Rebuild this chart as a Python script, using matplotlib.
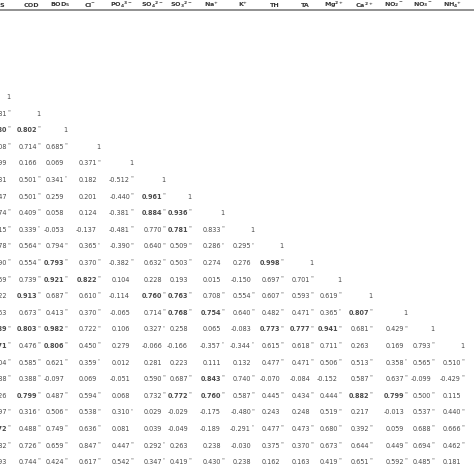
import matplotlib
matplotlib.use("Agg")
import matplotlib.pyplot as plt

plt.rcParams['mathtext.default'] = 'regular'

headers = ["S", "COD", r"BOD$_5$", r"Cl$^{-}$", r"PO$_4$$^{3-}$", r"SO$_4$$^{2-}$", r"SO$_3$$^{2-}$",
           r"Na$^{+}$", r"K$^{+}$", "TH", "TA", r"Mg$^{2+}$", r"Ca$^{2+}$", r"NO$_2$$^{-}$",
           r"NO$_3$$^{-}$", r"NH$_4$$^{+}$"]

rows = [
    ["1"],
    ["0.781**", "1"],
    ["0.880**", "0.802**", "1"],
    ["0.608**", "0.714**", "0.685**", "1"],
    ["0.199", "0.166", "0.069", "0.371**", "1"],
    ["0.131", "0.501**", "0.341*", "0.182", "-0.512**", "1"],
    ["0.247", "0.501**", "0.259", "0.201", "-0.440**", "0.961**", "1"],
    ["0.674**", "0.409**", "0.058", "0.124", "-0.381**", "0.884**", "0.936**", "1"],
    ["0.615**", "0.339*", "-0.053", "-0.137", "-0.481**", "0.770**", "0.781**", "0.833**", "1"],
    ["0.678**", "0.564**", "0.794**", "0.365*", "-0.390**", "0.640**", "0.509**", "0.286*", "0.295*", "1"],
    ["0.690**", "0.554**", "0.793**", "0.370**", "-0.382**", "0.632**", "0.503**", "0.274", "0.276", "0.998**", "1"],
    ["0.659**", "0.739**", "0.921**", "0.822**", "0.104", "0.228", "0.193", "0.015", "-0.150", "0.697**", "0.701**", "1"],
    ["0.222", "0.913**", "0.687**", "0.610**", "-0.114", "0.760**", "0.763**", "0.708**", "0.554**", "0.607**", "0.593**", "0.619**", "1"],
    ["0.063", "0.673**", "0.413**", "0.370**", "-0.065", "0.714**", "0.768**", "0.754**", "0.640**", "0.482**", "0.471**", "0.365*", "0.807**", "1"],
    ["0.889**", "0.803**", "0.982**", "0.722**", "0.106", "0.327*", "0.258", "0.065", "-0.083", "0.773**", "0.777**", "0.941**", "0.681**", "0.429**", "1"],
    ["0.871**", "0.476**", "0.806**", "0.450**", "0.279", "-0.066", "-0.166", "-0.357*", "-0.344*", "0.615**", "0.618**", "0.711**", "0.263", "0.169", "0.793**", "1"],
    ["0.604**", "0.585**", "0.621**", "0.359*", "0.012", "0.281", "0.223", "0.111", "0.132", "0.477**", "0.471**", "0.506**", "0.513**", "0.358*", "0.565**", "0.510**"],
    ["0.388**", "0.388**", "-0.097", "0.069", "-0.051", "0.590**", "0.687**", "0.843**", "0.740**", "-0.070", "-0.084", "-0.152", "0.587**", "0.637**", "-0.099", "-0.429**"],
    ["0.026", "0.799**", "0.487**", "0.594**", "0.068", "0.732**", "0.772**", "0.760**", "0.587**", "0.445**", "0.434**", "0.444**", "0.882**", "0.799**", "0.500**", "0.115"],
    ["0.697**", "0.316*", "0.506**", "0.538**", "0.310*", "0.029", "-0.029", "-0.175", "-0.480**", "0.243", "0.248", "0.519**", "0.217", "-0.013", "0.537**", "0.440**"],
    ["0.772**", "0.488**", "0.749**", "0.636**", "0.081", "0.039", "-0.049", "-0.189", "-0.291*", "0.477**", "0.473**", "0.680**", "0.392**", "0.059", "0.688**", "0.666**"],
    ["0.682**", "0.726**", "0.659**", "0.847**", "0.447**", "0.292*", "0.263", "0.238", "-0.030", "0.375**", "0.370**", "0.673**", "0.644**", "0.449**", "0.694**", "0.462**"],
    ["0.093", "0.744**", "0.424**", "0.617**", "0.542**", "0.347*", "0.419**", "0.430**", "0.238", "0.162", "0.163", "0.419**", "0.651**", "0.592**", "0.485**", "0.181"],
]

bold = {(2, 0), (2, 1), (6, 5), (7, 5), (7, 6), (8, 6), (10, 2), (10, 9), (11, 2), (11, 3),
        (12, 1), (12, 5), (12, 6), (13, 6), (13, 7), (13, 12), (14, 0), (14, 1), (14, 2),
        (14, 9), (14, 10), (14, 11), (15, 0), (15, 2), (17, 7), (18, 1), (18, 6), (18, 7),
        (18, 12), (18, 13), (20, 0)}

col_end = [7, 37, 64, 97, 130, 162, 188, 221, 251, 280, 310, 338, 369, 404, 431, 461]
head_x = [2, 31, 60, 90, 121, 152, 181, 211, 243, 275, 305, 334, 364, 394, 423, 453]
row_y0, row_dy = 97, 16.6

fig = plt.figure(figsize=(4.74, 4.74), dpi=100)
ax = fig.add_axes([0, 0, 1, 1])
ax.set_xlim(0, 474)
ax.set_ylim(474, 0)
ax.axis('off')

col = '#4a4a4a'
for x, h in zip(head_x, headers):
    ax.text(x, 5, h, ha='center', va='center', fontsize=4.6, fontweight='bold',
            color='#333333', clip_on=True)
ax.plot([0, 474], [9.5, 9.5], color='#888888', lw=1.3)

for r, row in enumerate(rows):
    y = row_y0 + r * row_dy
    for c, s in enumerate(row):
        num = s.rstrip('*')
        stars = s[len(num):]
        w = 'bold' if (r, c) in bold else 'normal'
        xe = col_end[c] + (3 if num == "1" else 0)
        ax.text(xe, y, num, ha='right', va='center', fontsize=4.7, color=col,
                fontweight=w, clip_on=True)
        if stars:
            ax.text(xe + 0.8, y - 2.5, stars, ha='left', va='center', fontsize=2.8,
                    color=col, clip_on=True)

fig.savefig("out.png", dpi=100)
